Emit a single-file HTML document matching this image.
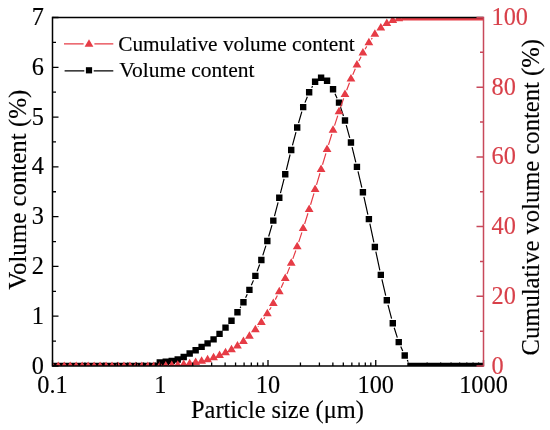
<!DOCTYPE html>
<html><head><meta charset="utf-8"><style>
html,body{margin:0;padding:0;background:#fff;width:550px;height:430px;overflow:hidden}
svg{display:block}
text{stroke:#000;stroke-width:0.15px}
.r text{stroke:#d8404a}
</style></head><body>
<svg width="550" height="430" viewBox="0 0 550 430">
<defs><clipPath id="pc"><rect x="52.5" y="17.5" width="431.0" height="348.5"/></clipPath></defs>
<rect width="550" height="430" fill="#fff"/>
<g clip-path="url(#pc)">
<path d="M240.10,307.83 L240.80,306.67 M245.58,297.81 L247.27,294.29 M251.33,285.34 L253.46,280.37 M257.08,271.38 L259.67,264.47 M262.79,255.42 L265.90,245.57 M268.66,236.49 L271.98,225.17 M274.49,216.07 L278.09,202.28 M280.44,193.17 L284.09,178.88 M286.37,169.77 L290.11,154.49 M292.44,145.38 L295.99,132.08 M298.53,122.98 L301.84,111.66 M304.97,102.61 L307.35,96.68 M311.67,87.76 L312.60,86.14 M335.03,93.67 L337.03,98.15 M340.53,107.16 L343.48,116.03 M346.23,125.11 L349.72,137.91 M352.08,147.02 L355.82,162.30 M358.01,171.42 L361.84,187.69 M363.93,196.81 L367.87,214.57 M369.86,223.70 L373.88,242.44 M375.84,251.58 L379.85,270.32 M381.91,279.45 L385.73,295.72 M387.99,304.84 L391.59,318.63 M394.21,327.72 L397.32,337.57 M400.74,346.58 L402.74,351.07 M407.25,359.96 L408.18,361.58" fill="none" stroke="#000" stroke-width="1.2"/>
<path fill="#000" d="M37.13,362.80 h6.4 v6.4 h-6.4Z M43.10,362.80 h6.4 v6.4 h-6.4Z M49.08,362.80 h6.4 v6.4 h-6.4Z M55.05,362.80 h6.4 v6.4 h-6.4Z M61.02,362.80 h6.4 v6.4 h-6.4Z M67.00,362.80 h6.4 v6.4 h-6.4Z M72.97,362.80 h6.4 v6.4 h-6.4Z M78.95,362.80 h6.4 v6.4 h-6.4Z M84.92,362.80 h6.4 v6.4 h-6.4Z M90.89,362.80 h6.4 v6.4 h-6.4Z M96.87,362.80 h6.4 v6.4 h-6.4Z M102.84,362.80 h6.4 v6.4 h-6.4Z M108.81,362.80 h6.4 v6.4 h-6.4Z M114.79,362.80 h6.4 v6.4 h-6.4Z M120.76,362.80 h6.4 v6.4 h-6.4Z M126.74,362.80 h6.4 v6.4 h-6.4Z M132.71,362.80 h6.4 v6.4 h-6.4Z M138.68,362.80 h6.4 v6.4 h-6.4Z M144.66,362.80 h6.4 v6.4 h-6.4Z M150.63,362.80 h6.4 v6.4 h-6.4Z M156.60,359.27 h6.4 v6.4 h-6.4Z M162.58,358.57 h6.4 v6.4 h-6.4Z M168.55,357.82 h6.4 v6.4 h-6.4Z M174.53,356.33 h6.4 v6.4 h-6.4Z M180.50,353.84 h6.4 v6.4 h-6.4Z M186.47,350.35 h6.4 v6.4 h-6.4Z M192.45,347.12 h6.4 v6.4 h-6.4Z M198.42,343.63 h6.4 v6.4 h-6.4Z M204.39,340.15 h6.4 v6.4 h-6.4Z M210.37,336.16 h6.4 v6.4 h-6.4Z M216.34,330.69 h6.4 v6.4 h-6.4Z M222.32,324.47 h6.4 v6.4 h-6.4Z M228.29,317.50 h6.4 v6.4 h-6.4Z M234.26,309.03 h6.4 v6.4 h-6.4Z M240.24,299.07 h6.4 v6.4 h-6.4Z M246.21,286.63 h6.4 v6.4 h-6.4Z M252.18,272.69 h6.4 v6.4 h-6.4Z M258.16,256.76 h6.4 v6.4 h-6.4Z M264.13,237.84 h6.4 v6.4 h-6.4Z M270.11,217.43 h6.4 v6.4 h-6.4Z M276.08,194.52 h6.4 v6.4 h-6.4Z M282.05,171.12 h6.4 v6.4 h-6.4Z M288.03,146.73 h6.4 v6.4 h-6.4Z M294.00,124.33 h6.4 v6.4 h-6.4Z M299.97,103.91 h6.4 v6.4 h-6.4Z M305.95,88.98 h6.4 v6.4 h-6.4Z M311.92,78.52 h6.4 v6.4 h-6.4Z M317.90,74.54 h6.4 v6.4 h-6.4Z M323.87,77.53 h6.4 v6.4 h-6.4Z M329.84,85.99 h6.4 v6.4 h-6.4Z M335.82,99.43 h6.4 v6.4 h-6.4Z M341.79,117.36 h6.4 v6.4 h-6.4Z M347.76,139.26 h6.4 v6.4 h-6.4Z M353.74,163.66 h6.4 v6.4 h-6.4Z M359.71,189.05 h6.4 v6.4 h-6.4Z M365.69,215.93 h6.4 v6.4 h-6.4Z M371.66,243.81 h6.4 v6.4 h-6.4Z M377.63,271.69 h6.4 v6.4 h-6.4Z M383.61,297.08 h6.4 v6.4 h-6.4Z M389.58,319.98 h6.4 v6.4 h-6.4Z M395.55,338.90 h6.4 v6.4 h-6.4Z M401.53,352.35 h6.4 v6.4 h-6.4Z M407.50,362.80 h6.4 v6.4 h-6.4Z M413.47,362.80 h6.4 v6.4 h-6.4Z M419.45,362.80 h6.4 v6.4 h-6.4Z M425.42,362.80 h6.4 v6.4 h-6.4Z M431.40,362.80 h6.4 v6.4 h-6.4Z M437.37,362.80 h6.4 v6.4 h-6.4Z M443.34,362.80 h6.4 v6.4 h-6.4Z M449.32,362.80 h6.4 v6.4 h-6.4Z M455.29,362.80 h6.4 v6.4 h-6.4Z M461.26,362.80 h6.4 v6.4 h-6.4Z M467.24,362.80 h6.4 v6.4 h-6.4Z M473.21,362.80 h6.4 v6.4 h-6.4Z M479.19,362.80 h6.4 v6.4 h-6.4Z M485.16,362.80 h6.4 v6.4 h-6.4Z M491.13,362.80 h6.4 v6.4 h-6.4Z"/>
<path d="M257.96,326.67 L258.46,326.05 M263.73,318.99 L264.83,317.38 M269.51,310.02 L271.13,307.27 M275.30,299.64 L277.37,295.56 M281.12,287.69 L283.57,282.19 M286.95,274.13 L289.72,267.12 M292.81,258.90 L295.83,250.47 M298.70,242.13 L301.91,232.40 M304.61,223.97 L307.95,213.27 M310.55,204.79 L313.97,193.41 M316.50,184.91 L319.96,173.27 M322.49,164.78 L325.92,153.34 M328.49,144.88 L331.86,133.99 M334.52,125.60 L337.77,115.58 M340.57,107.29 L343.66,98.42 M346.65,90.27 L349.51,82.79 M352.76,74.81 L355.31,68.85 M358.89,61.09 L361.06,56.68 M365.08,49.21 L366.73,46.37 M371.32,39.28 L372.25,37.99" fill="none" stroke="#e63c46" stroke-width="1.2"/>
<path fill="#e63c46" d="M40.33,361.50 L44.73,369.00 L35.93,369.00Z M46.30,361.50 L50.70,369.00 L41.90,369.00Z M52.28,361.50 L56.68,369.00 L47.88,369.00Z M58.25,361.50 L62.65,369.00 L53.85,369.00Z M64.22,361.50 L68.62,369.00 L59.82,369.00Z M70.20,361.50 L74.60,369.00 L65.80,369.00Z M76.17,361.50 L80.57,369.00 L71.77,369.00Z M82.15,361.50 L86.55,369.00 L77.75,369.00Z M88.12,361.50 L92.52,369.00 L83.72,369.00Z M94.09,361.50 L98.49,369.00 L89.69,369.00Z M100.07,361.50 L104.47,369.00 L95.67,369.00Z M106.04,361.50 L110.44,369.00 L101.64,369.00Z M112.01,361.50 L116.41,369.00 L107.61,369.00Z M117.99,361.50 L122.39,369.00 L113.59,369.00Z M123.96,361.50 L128.36,369.00 L119.56,369.00Z M129.94,361.50 L134.34,369.00 L125.54,369.00Z M135.91,361.50 L140.31,369.00 L131.51,369.00Z M141.88,361.50 L146.28,369.00 L137.48,369.00Z M147.86,361.50 L152.26,369.00 L143.46,369.00Z M153.83,361.50 L158.23,369.00 L149.43,369.00Z M159.80,361.25 L164.20,368.75 L155.40,368.75Z M165.78,360.96 L170.18,368.46 L161.38,368.46Z M171.75,360.61 L176.15,368.11 L167.35,368.11Z M177.73,360.16 L182.13,367.66 L173.33,367.66Z M183.70,359.53 L188.10,367.03 L179.30,367.03Z M189.67,358.66 L194.07,366.16 L185.27,366.16Z M195.65,357.57 L200.05,365.07 L191.25,365.07Z M201.62,356.23 L206.02,363.73 L197.22,363.73Z M207.59,354.64 L211.99,362.14 L203.19,362.14Z M213.57,352.78 L217.97,360.28 L209.17,360.28Z M219.54,350.54 L223.94,358.04 L215.14,358.04Z M225.52,347.86 L229.92,355.36 L221.12,355.36Z M231.49,344.69 L235.89,352.19 L227.09,352.19Z M237.46,340.94 L241.86,348.44 L233.06,348.44Z M243.44,336.48 L247.84,343.98 L239.04,343.98Z M249.41,331.16 L253.81,338.66 L245.01,338.66Z M255.38,324.87 L259.78,332.37 L250.98,332.37Z M261.36,317.46 L265.76,324.96 L256.96,324.96Z M267.33,308.72 L271.73,316.22 L262.93,316.22Z M273.31,298.57 L277.71,306.07 L268.91,306.07Z M279.28,286.81 L283.68,294.31 L274.88,294.31Z M285.25,273.42 L289.65,280.92 L280.85,280.92Z M291.23,258.32 L295.63,265.82 L286.83,265.82Z M297.20,241.66 L301.60,249.16 L292.80,249.16Z M303.17,223.57 L307.57,231.07 L298.77,231.07Z M309.15,204.43 L313.55,211.93 L304.75,211.93Z M315.12,184.57 L319.52,192.07 L310.72,192.07Z M321.10,164.43 L325.50,171.93 L316.70,171.93Z M327.07,144.49 L331.47,151.99 L322.67,151.99Z M333.04,125.15 L337.44,132.65 L328.64,132.65Z M339.02,106.75 L343.42,114.25 L334.62,114.25Z M344.99,89.60 L349.39,97.10 L340.59,97.10Z M350.96,73.98 L355.36,81.48 L346.56,81.48Z M356.94,60.07 L361.34,67.57 L352.54,67.57Z M362.91,47.93 L367.31,55.43 L358.51,55.43Z M368.89,37.66 L373.29,45.16 L364.49,45.16Z M374.86,29.35 L379.26,36.85 L370.46,36.85Z M380.83,22.98 L385.23,30.48 L376.43,30.48Z M386.81,18.39 L391.21,25.89 L382.41,25.89Z M392.78,15.40 L397.18,22.90 L388.38,22.90Z M398.75,13.73 L403.15,21.23 L394.35,21.23Z M404.73,13.00 L409.13,20.50 L400.33,20.50Z M410.70,13.00 L415.10,20.50 L406.30,20.50Z M416.67,13.00 L421.07,20.50 L412.27,20.50Z M422.65,13.00 L427.05,20.50 L418.25,20.50Z M428.62,13.00 L433.02,20.50 L424.22,20.50Z M434.60,13.00 L439.00,20.50 L430.20,20.50Z M440.57,13.00 L444.97,20.50 L436.17,20.50Z M446.54,13.00 L450.94,20.50 L442.14,20.50Z M452.52,13.00 L456.92,20.50 L448.12,20.50Z M458.49,13.00 L462.89,20.50 L454.09,20.50Z M464.46,13.00 L468.86,20.50 L460.06,20.50Z M470.44,13.00 L474.84,20.50 L466.04,20.50Z M476.41,13.00 L480.81,20.50 L472.01,20.50Z M482.39,13.00 L486.79,20.50 L477.99,20.50Z M488.36,13.00 L492.76,20.50 L483.96,20.50Z M494.33,13.00 L498.73,20.50 L489.93,20.50Z"/>
</g>
<path d="M52.5,17.5 L483.5,17.5" stroke="#000" stroke-width="1.5"/>
<path d="M52.5,16.75 L52.5,366.75" stroke="#000" stroke-width="1.5"/>
<path d="M52.5,366.0 L483.5,366.0" stroke="#000" stroke-width="1.5"/>
<path d="M52.5,366.00 h6 M52.5,316.21 h6 M52.5,266.43 h6 M52.5,216.64 h6 M52.5,166.86 h6 M52.5,117.07 h6 M52.5,67.29 h6 M52.5,17.50 h6 M52.5,341.11 h3.5 M52.5,291.32 h3.5 M52.5,241.54 h3.5 M52.5,191.75 h3.5 M52.5,141.96 h3.5 M52.5,92.18 h3.5 M52.5,42.39 h3.5 M52.50,366.0 v-6 M84.94,366.0 v-3.5 M103.91,366.0 v-3.5 M117.37,366.0 v-3.5 M127.81,366.0 v-3.5 M136.35,366.0 v-3.5 M143.56,366.0 v-3.5 M149.81,366.0 v-3.5 M155.32,366.0 v-3.5 M160.25,366.0 v-6 M192.69,366.0 v-3.5 M211.66,366.0 v-3.5 M225.12,366.0 v-3.5 M235.56,366.0 v-3.5 M244.10,366.0 v-3.5 M251.31,366.0 v-3.5 M257.56,366.0 v-3.5 M263.07,366.0 v-3.5 M268.00,366.0 v-6 M300.44,366.0 v-3.5 M319.41,366.0 v-3.5 M332.87,366.0 v-3.5 M343.31,366.0 v-3.5 M351.85,366.0 v-3.5 M359.06,366.0 v-3.5 M365.31,366.0 v-3.5 M370.82,366.0 v-3.5 M375.75,366.0 v-6 M408.19,366.0 v-3.5 M427.16,366.0 v-3.5 M440.62,366.0 v-3.5 M451.06,366.0 v-3.5 M459.60,366.0 v-3.5 M466.81,366.0 v-3.5 M473.06,366.0 v-3.5 M478.57,366.0 v-3.5 M483.50,366.0 v-6" stroke="#000" stroke-width="1.3" fill="none"/>
<path d="M483.5,16.75 L483.5,366.75 M483.5,366.00 h-7 M483.5,296.30 h-7 M483.5,226.60 h-7 M483.5,156.90 h-7 M483.5,87.20 h-7 M483.5,17.50 h-7 M483.5,331.15 h-3.5 M483.5,261.45 h-3.5 M483.5,191.75 h-3.5 M483.5,122.05 h-3.5 M483.5,52.35 h-3.5" stroke="#c8485a" stroke-width="1.5" fill="none"/>
<g font-family="'Liberation Serif','Times New Roman',serif" font-size="24.3" fill="#000" text-anchor="end">
<text x="44" y="373.50">0</text>
<text x="44" y="323.71">1</text>
<text x="44" y="273.93">2</text>
<text x="44" y="224.14">3</text>
<text x="44" y="174.36">4</text>
<text x="44" y="124.57">5</text>
<text x="44" y="74.79">6</text>
<text x="44" y="25.00">7</text>
</g>
<g font-family="'Liberation Serif','Times New Roman',serif" font-size="24.3" fill="#000" text-anchor="middle">
<text x="52.50" y="392.7">0.1</text>
<text x="160.25" y="392.7">1</text>
<text x="268.00" y="392.7">10</text>
<text x="375.75" y="392.7">100</text>
<text x="483.50" y="392.7">1000</text>
</g>
<g class="r" font-family="'Liberation Serif','Times New Roman',serif" font-size="24.3" fill="#d8404a" text-anchor="start">
<text x="491.5" y="373.50">0</text>
<text x="491.5" y="303.80">20</text>
<text x="491.5" y="234.10">40</text>
<text x="491.5" y="164.40">60</text>
<text x="491.5" y="94.70">80</text>
<text x="491.5" y="25.00">100</text>
</g>
<text font-family="'Liberation Serif','Times New Roman',serif" font-size="24.4" x="191" y="417.8">Particle size (μm)</text>
<text font-family="'Liberation Serif','Times New Roman',serif" font-size="24.9" transform="translate(25.7,289.8) rotate(-90)">Volume content (%)</text>
<text font-family="'Liberation Serif','Times New Roman',serif" font-size="24.6" transform="translate(539.2,355.4) rotate(-90)">Cumulative volume content (%)</text>
<path d="M64,43.8 H83.6 M94.4,43.8 H113.3" stroke="#e63c46" stroke-width="1.3"/>
<path d="M89,39.30 L93.40,46.80 L84.60,46.80Z" fill="#e63c46"/>
<path d="M64.6,70.8 H84.3 M93.7,70.8 H113.3" stroke="#000" stroke-width="1.3"/>
<rect x="85.9" y="67.2" width="6.2" height="6.2" fill="#000"/>
<text font-family="'Liberation Serif','Times New Roman',serif" font-size="21.3" x="118.2" y="50.8">Cumulative volume content</text>
<text font-family="'Liberation Serif','Times New Roman',serif" font-size="21.5" x="119.3" y="77.3">Volume content</text>
</svg>
</body></html>
